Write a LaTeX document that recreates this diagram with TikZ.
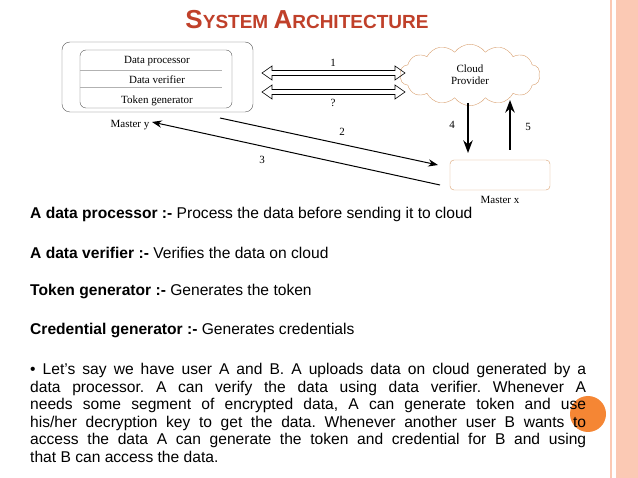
\documentclass[tikz,border=0pt]{standalone}
\usepackage{fontspec}
\setmainfont{Liberation Sans}
\newfontfamily\serifdiag{Liberation Serif}
\usetikzlibrary{arrows.meta,shapes.symbols}
\definecolor{colortitle}{HTML}{C0402A}
\definecolor{colorband}{HTML}{FBC9B4}
\definecolor{colordot}{HTML}{F58634}
\definecolor{colorcloud}{HTML}{D9A070}

\begin{document}
\begin{tikzpicture}
    [x=1pt,y=-1pt,>={Stealth[scale=1.3]},
     lbl/.style={font=\serifdiag\fontsize{11}{12}\selectfont, inner sep=1pt},
     para/.style={anchor=west, font=\fontsize{15.6}{17.6}\selectfont\frenchspacing, inner sep=0pt},
     dbl/.style={draw, line width=0.6pt, line join=miter},
    ]
\useasboundingbox (0,0) rectangle (638,478);
\fill[white] (0,0) rectangle (638,478);
% right band
\fill[colorband] (616,0) rectangle (638,478);
\draw[colorband, line width=1.5pt] (611,0) -- (611,478);
\fill[colordot] (588,414) circle (18);

\node[font=\bfseries\color{colortitle}] (title) at (307,20) {\fontsize{26}{28}\selectfont S\fontsize{19}{20}\selectfont YSTEM \fontsize{26}{28}\selectfont A\fontsize{19}{20}\selectfont RCHITECTURE};

% diagram
\draw[gray!70!black, rounded corners=8pt] (62,42) rectangle (253,112);
\draw[gray!70!black, rounded corners=6pt] (80,50) rectangle (232,108);
\draw[gray!60] (80,70) -- (222,70);
\draw[gray!60] (80,87) -- (222,87);
\node[lbl] (dp) at (157,61) {Data processor};
\node[lbl] (dv) at (157,80) {Data verifier};
\node[lbl] (tg) at (157,101) {Token generator};
\node[lbl] (my) at (130,125) {Master y};

\node[cloud, draw=colorcloud, cloud puffs=14, cloud puff arc=110, minimum width=140pt, minimum height=58pt, lbl, align=center] (cloud) at (470,75) {Cloud\\Provider};
\node[draw=colorcloud, rounded corners=4pt, minimum width=100pt, minimum height=30pt] (mx) at (500,175) {};
\node[lbl] (mxl) at (500,200) {Master x};

% hollow double arrows
\foreach \y/\name in {73/a1, 92/a2}{
  \draw[dbl] (262,\y) -- (272,\y-7) -- (272,\y-2.5) -- (395,\y-2.5) -- (395,\y-7)
    -- (405,\y) -- (395,\y+7) -- (395,\y+2.5) -- (272,\y+2.5) -- (272,\y+7) -- cycle;
  \coordinate (\name) at (333,\y);
}
\node[lbl, above=5pt] (l1) at (a1) {1};
\node[lbl, below=6pt] (lq) at (a2) {?};

\coordinate (p2) at (220,118); \coordinate (q2) at (438,165);
\coordinate (p3) at (440,185); \coordinate (q3) at (152,122);
\draw[->, line width=1pt] (p2) -- (q2);
\draw[->, line width=1pt] (p3) -- (q3);
\node[lbl] (l2) at (342,132) {2};
\node[lbl] (l3) at (262,160) {3};

\draw[->, line width=1.5pt] (468,103) -- (468,153);
\draw[->, line width=1.5pt] (510,150) -- (510,100);
\node[lbl] (l4) at (452,125) {4};
\node[lbl] (l5) at (528,127) {5};

% text
\node[para] (t1) at (30,214) {\textbf{A data processor :-} Process the data before sending it to cloud};
\node[para] (t2) at (30,253) {\textbf{A data verifier :-} Verifies the data on cloud};
\node[para] (t3) at (30,292) {\textbf{Token generator :-} Generates the token};
\node[para] (t4) at (30,331) {\textbf{Credential generator :-} Generates credentials};
\node[para, anchor=north west, text width=556pt, align=justify] (t5) at (30,363) {\textbullet{} Let's say we have user A and B. A uploads data on cloud generated by a\linebreak data processor. A can verify the data using data verifier. Whenever A\linebreak needs some segment of encrypted data, A can generate token and use\linebreak his/her decryption key to get the data. Whenever another user B wants to\linebreak access the data A can generate the token and credential for B and using\linebreak that B can access the data.};
\end{tikzpicture}
\end{document}
